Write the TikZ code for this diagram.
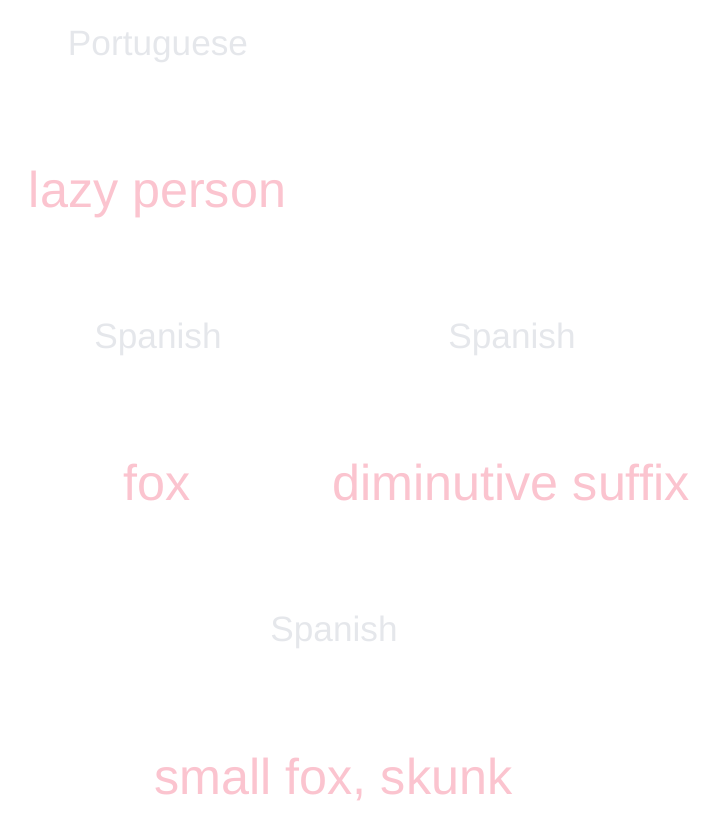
\documentclass[tikz,border=0pt]{standalone}
\usepackage{fontspec}
\setmainfont{Liberation Sans}
\usetikzlibrary{positioning}
\definecolor{langgray}{HTML}{E5E7EB}
\definecolor{sensepink}{HTML}{FBC4CF}
\tikzstyle{lang}=[text=langgray,anchor=base,inner sep=0pt,font=\fontsize{35.2}{42}\selectfont]
\tikzstyle{sense}=[text=sensepink,anchor=base,inner sep=0pt,font=\fontsize{50.3}{60}\selectfont]
\begin{document}
\begin{tikzpicture}[x=1pt,y=-1pt]
\useasboundingbox (0,0) rectangle (718,825);
\node[lang](pt)at(158,55){Portuguese};
\node[sense](lazy)at(157.5,207){lazy person};
\node[lang](esa)at(158,348){Spanish};
\node[lang](esb)at(512,348){Spanish};
\node[sense](fox)at(157,500){fox};
\node[sense](dim)at(511,500){diminutive suffix};
\node[lang](esc)at(334,641){Spanish};
\node[sense](skunk)at(333.5,794){small fox, skunk};
\end{tikzpicture}
\end{document}
